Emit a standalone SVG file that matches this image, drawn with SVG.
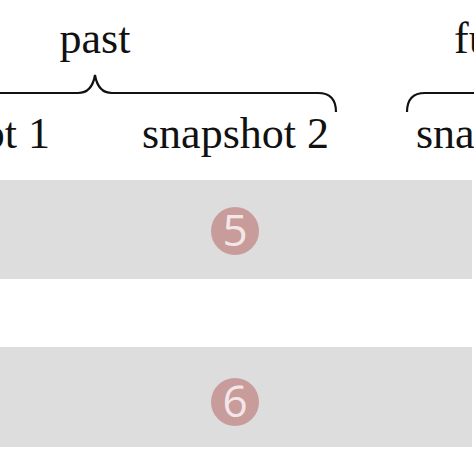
<svg xmlns="http://www.w3.org/2000/svg" width="474" height="474" viewBox="0 0 474 474">
<style>
.lbl{font-family:"Liberation Serif","Times New Roman",serif;font-size:44px;fill:#111}
.brace{fill:none;stroke:#111;stroke-width:2.2}
.band{fill:#dddddd}
.badge{fill:#c99c9c}
.num{font-family:"Open Sans","DejaVu Sans",sans-serif;font-size:44px;fill:#f3e6e6;text-anchor:middle}
</style>
<rect width="474" height="474" fill="#ffffff"/>
<g id="labels">
<text class="lbl" x="95" y="53" text-anchor="middle">past</text>
<text class="lbl" x="454" y="53">future</text>
<text class="lbl" x="50" y="148" text-anchor="end">snapshot 1</text>
<text class="lbl" x="142" y="148">snapshot 2</text>
<text class="lbl" x="416" y="148">snapshot 3</text>
</g>
<g id="braces">
<path class="brace" d="M-150,112 Q-150,93 -132,93 L78,93 Q92,93 95,75 Q98,93 112,93 L318,93 Q336,93 336,112"/>
<path class="brace" d="M407,112 Q407,93 425,93 L490,93"/>
</g>
<g id="row5">
<rect class="band" x="0" y="180" width="472" height="99"/>
<circle class="badge" cx="235" cy="231" r="24"/>
<text class="num" x="235" y="246">5</text>
</g>
<g id="row6">
<rect class="band" x="0" y="347" width="472" height="100"/>
<circle class="badge" cx="235" cy="402" r="24"/>
<text class="num" x="235" y="417">6</text>
</g>
</svg>
